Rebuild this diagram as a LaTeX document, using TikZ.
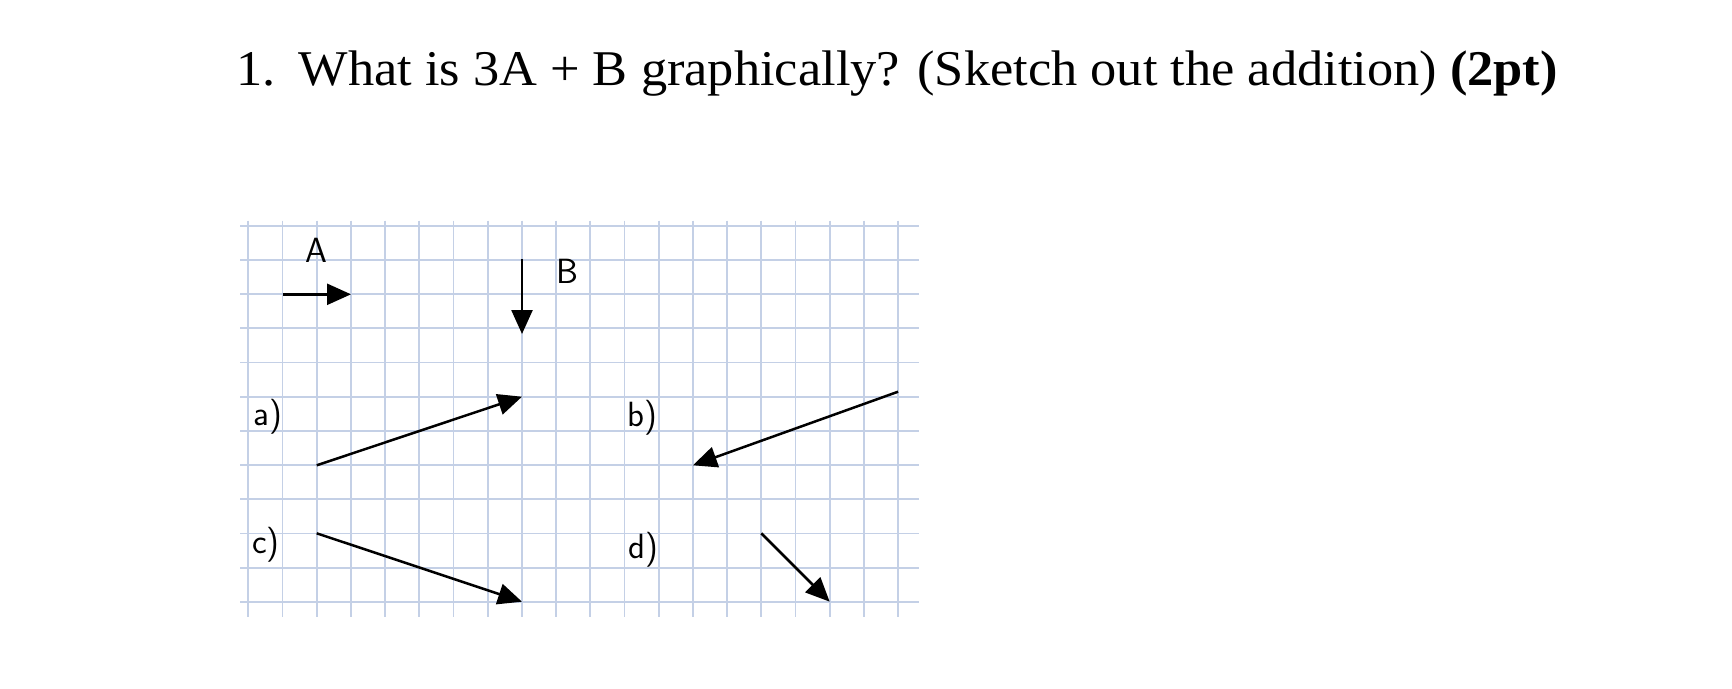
\documentclass[tikz,border=0pt]{standalone}
\usepackage{fontspec}
\setmainfont{Liberation Serif}
\usetikzlibrary{arrows.meta}
\definecolor{gridc}{RGB}{196,208,230}
\begin{document}
\begin{tikzpicture}[x=1pt,y=-1pt,
 gridline/.style={draw=gridc,line width=1.8pt},
 vec/.style={draw=black,line width=2.5pt,-{Triangle[length=24pt,width=21pt]}},
 hand/.style={font=\sffamily\fontsize{35}{40}\selectfont,inner sep=0pt},
 title/.style={font=\fontsize{50}{60}\selectfont,inner sep=0pt,anchor=base west}]
\useasboundingbox (0,0) rectangle (1732,688);
\fill[white] (0,0) rectangle (1732,688);
% grid
\foreach \i in {0,...,19}
  \draw[gridline] ({248.3+34.2*\i},220.7) -- ({248.3+34.2*\i},617.3);
\foreach \j in {0,...,11}
  \draw[gridline] (240,{225.7+34.2*\j}) -- (919.3,{225.7+34.2*\j});
% title
\node[title] (title) at (236,85) {\scalebox{1.048}[1]{1.\hspace{22pt}What is 3A + B graphically? (Sketch out the addition) \textbf{(2pt)}}};
% labels
\node[hand] (lA) at (316,250.5) {A};
\node[hand] (lB) at (567,271) {B};
\node[hand] (la) at (268,417) {a)};
\node[hand] (lb) at (642,418) {b)};
\node[hand] (lc) at (266,545) {c)};
\node[hand] (ld) at (643,550) {d)};
% vector end points
\coordinate (A0) at (282.7,294.3);
\coordinate (A1) at (351,294.3);
\coordinate (B0) at (522,259.3);
\coordinate (B1) at (522,334);
\coordinate (a0) at (316.7,465.3);
\coordinate (a1) at (522,396.7);
\coordinate (b0) at (898.1,391.7);
\coordinate (b1) at (692.9,465.3);
\coordinate (c0) at (316.7,533.3);
\coordinate (c1) at (522,601.7);
\coordinate (d0) at (761.3,533.3);
\coordinate (d1) at (829.7,601.7);
\draw[vec] (A0) -- (A1);
\draw[vec] (B0) -- (B1);
\draw[vec] (a0) -- (a1);
\draw[vec] (b0) -- (b1);
\draw[vec] (c0) -- (c1);
\draw[vec] (d0) -- (d1);
\end{tikzpicture}
\end{document}
